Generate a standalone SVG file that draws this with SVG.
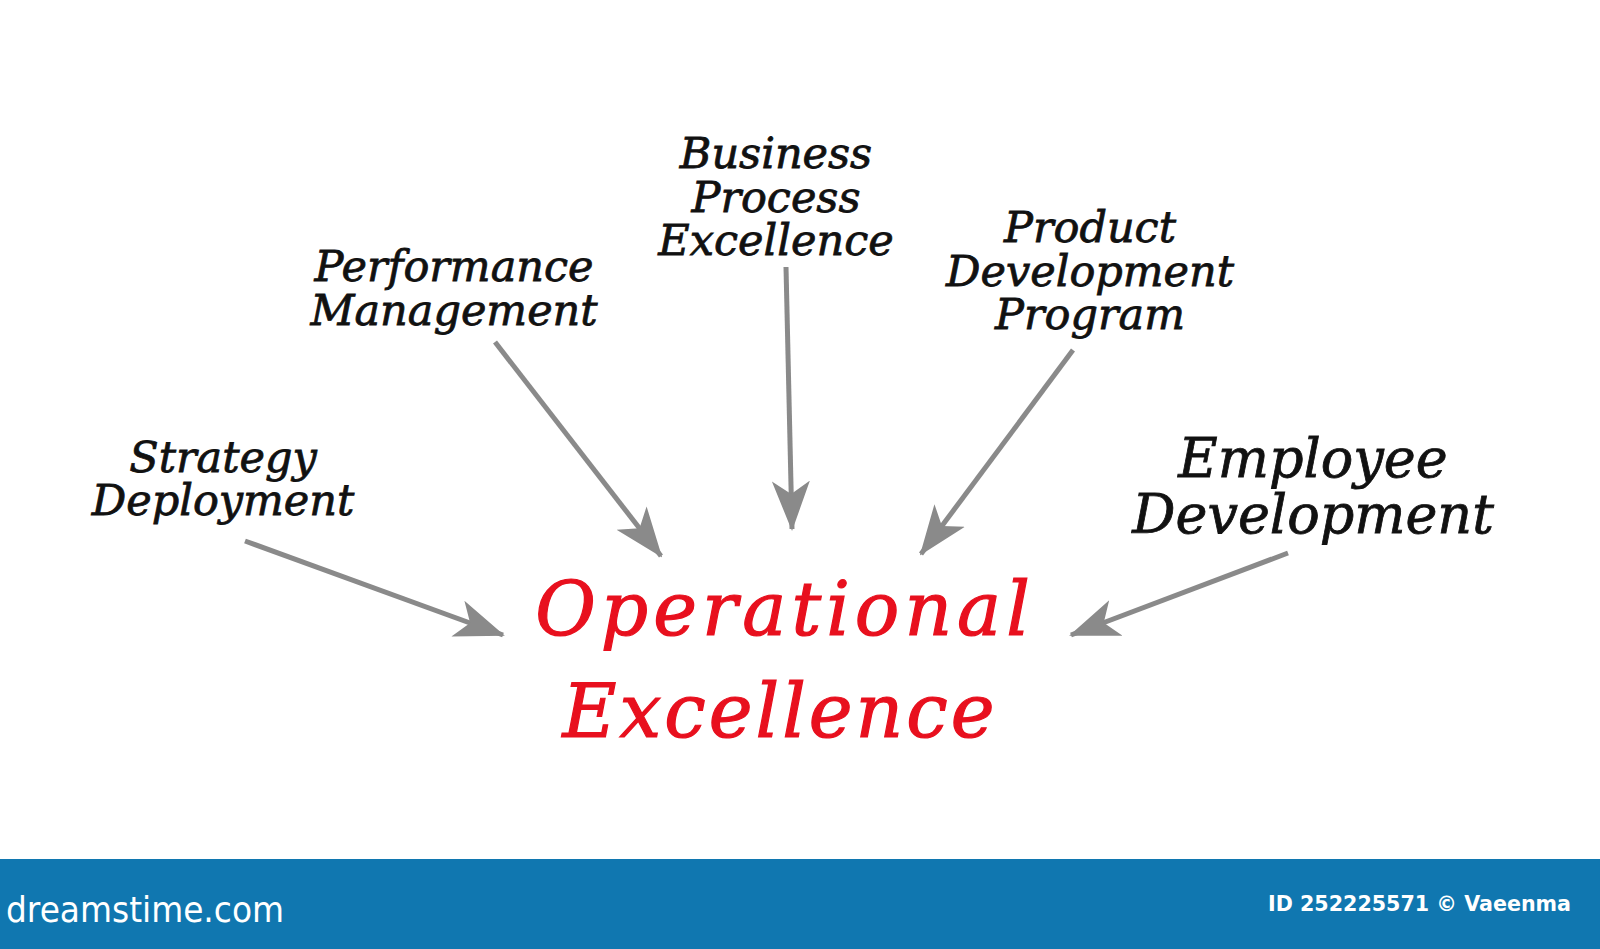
<svg xmlns="http://www.w3.org/2000/svg" width="1600" height="949" viewBox="0 0 1600 949">
<style>
.lbl{font-family:"DejaVu Serif","Liberation Serif",serif;font-style:italic;fill:#111;stroke:#111;stroke-width:0.8;text-anchor:middle}
.main{font-family:"DejaVu Serif","Liberation Serif",serif;font-style:italic;fill:#e8101e;stroke:#e8101e;stroke-width:1.2;text-anchor:middle;letter-spacing:5px}
.conn{stroke:#8a8a8a;stroke-width:5;fill:none;marker-end:url(#ah)}
.brand{font-family:"DejaVu Sans","Liberation Sans",sans-serif;fill:#fff}
</style>
<defs>
<marker id="ah" markerUnits="userSpaceOnUse" viewBox="0 0 50 40" markerWidth="50" markerHeight="40" refX="48" refY="20" orient="auto">
<path d="M0,1 L50,20 L0,39 L13,20 Z" fill="#8a8a8a"/>
</marker>
</defs>
<rect width="1600" height="949" fill="#fff"/>
<g id="connectors">
<line class="conn" x1="245" y1="541" x2="503" y2="635"/>
<line class="conn" x1="495" y1="342" x2="661" y2="556"/>
<line class="conn" x1="786" y1="267" x2="792" y2="529"/>
<line class="conn" x1="1073" y1="350" x2="921" y2="554"/>
<line class="conn" x1="1288" y1="553" x2="1071" y2="635"/>
</g>
<g id="strategy"><text class="lbl" font-size="43" x="223"><tspan x="223" y="472">Strategy</tspan><tspan x="223" y="515">Deployment</tspan></text></g>
<g id="performance"><text class="lbl" font-size="43" x="454"><tspan x="454" y="281">Performance</tspan><tspan x="454" y="325">Management</tspan></text></g>
<g id="business"><text class="lbl" font-size="43" x="776"><tspan x="776" y="168">Business</tspan><tspan x="776" y="212">Process</tspan><tspan x="776" y="255">Excellence</tspan></text></g>
<g id="product"><text class="lbl" font-size="43" x="1090"><tspan x="1090" y="242">Product</tspan><tspan x="1090" y="286">Development</tspan><tspan x="1090" y="329">Program</tspan></text></g>
<g id="employee"><text class="lbl" font-size="54" x="1313"><tspan x="1313" y="477">Employee</tspan><tspan x="1313" y="533">Development</tspan></text></g>
<g id="operational"><text class="main" font-size="74" x="782"><tspan x="785" y="635">Operational</tspan><tspan x="780" y="737" letter-spacing="3">Excellence</tspan></text></g>
<g id="banner">
<rect x="0" y="859" width="1600" height="90" fill="#1077b0"/>
<text class="brand" x="6" y="922" font-size="36" textLength="278" lengthAdjust="spacingAndGlyphs">dreamstime.com</text>
<text class="brand" x="1571" y="911" font-size="22" font-weight="bold" text-anchor="end" textLength="303" lengthAdjust="spacingAndGlyphs">ID 252225571 © Vaeenma</text>
</g>
</svg>
